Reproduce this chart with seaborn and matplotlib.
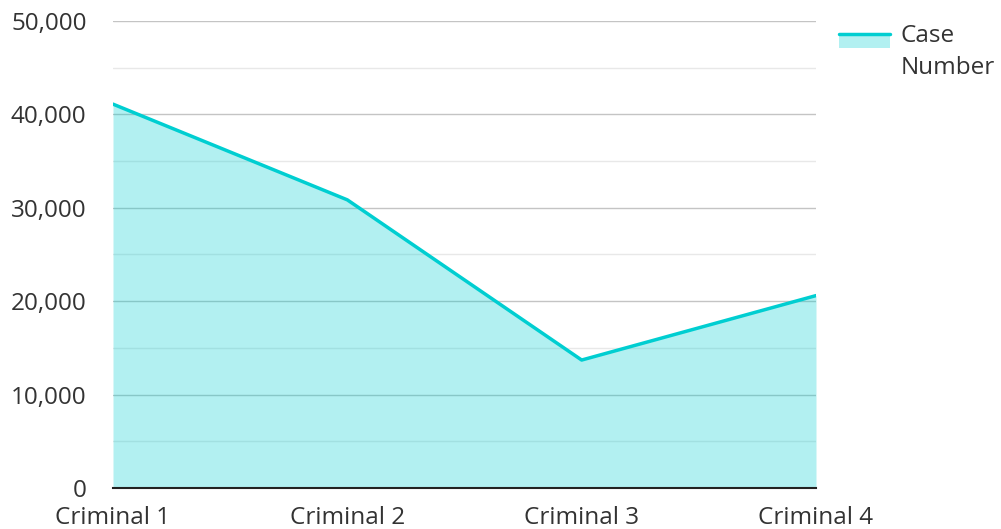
import matplotlib
matplotlib.use("Agg")
import pandas as pd
import seaborn as sns
import matplotlib.pyplot as plt
from matplotlib.patches import Rectangle
from matplotlib.lines import Line2D
from matplotlib.ticker import FuncFormatter, MultipleLocator

categories = ["Criminal 1", "Criminal 2", "Criminal 3", "Criminal 4"]
case_number = [41100, 30850, 13700, 20600]

line_color = "#00CED1"

sns.set_theme(style="white")
plt.rcParams['font.family'] = ['Open Sans', 'DejaVu Sans']

df = pd.DataFrame({"x": range(len(categories)), "cases": case_number})

fig = plt.figure(figsize=(10.01, 5.29), dpi=100)
ax = fig.add_axes([113 / 1001, 1 - 488 / 529, (816 - 113) / 1001, (488 - 21) / 529])

ax.fill_between(df["x"], df["cases"], 0, color=line_color, alpha=0.3, linewidth=0, zorder=1)
sns.lineplot(data=df, x="x", y="cases", color=line_color, linewidth=2.5, ax=ax, zorder=3)

ax.set_xlim(0, 3)
ax.set_ylim(0, 50000)
ax.yaxis.set_major_locator(MultipleLocator(10000))
ax.yaxis.set_minor_locator(MultipleLocator(5000))
ax.yaxis.set_major_formatter(FuncFormatter(lambda v, p: f"{int(v):,}"))
ax.set_axisbelow(True)
ax.grid(axis="y", which="major", color="#c4c4c4", linewidth=1, zorder=0.5)
ax.grid(axis="y", which="minor", color="#e8e8e8", linewidth=1, zorder=0.5)
ax.set_xticks(df["x"])
ax.set_xticklabels(categories)
ax.tick_params(axis="both", which="both", length=0, labelsize=17.5, colors="#333333")
ax.tick_params(axis="y", pad=19)
ax.tick_params(axis="x", pad=13)
ax.set_xlabel("")
ax.set_ylabel("")
for s in ["top", "right", "left"]:
    ax.spines[s].set_visible(False)
ax.spines["bottom"].set_color("#222222")
ax.spines["bottom"].set_linewidth(1.5)
ax.spines["bottom"].set_zorder(4)


class AreaHandler:
    # line on top of a filled box, aligned with the first text line
    def legend_artist(self, legend, orig_handle, fontsize, handlebox):
        x0, y0 = handlebox.xdescent, handlebox.ydescent
        w, h = handlebox.width, handlebox.height
        y0 = y0 + 0.57 * fontsize
        rect = Rectangle((x0, y0), w, h, facecolor=line_color, alpha=0.3,
                         edgecolor="none", transform=handlebox.get_transform())
        ln = Line2D([x0, x0 + w], [y0 + h, y0 + h], color=line_color, linewidth=2.5,
                    transform=handlebox.get_transform())
        handlebox.add_artist(rect)
        handlebox.add_artist(ln)
        return rect


handle = Rectangle((0, 0), 1, 1)
leg = fig.legend([handle], ["Case\nNumber"], handler_map={Rectangle: AreaHandler()},
                 loc="upper left", bbox_to_anchor=(817 / 1001, 1 - 2 / 529),
                 frameon=False, fontsize=17.5, handlelength=2.1, handleheight=0.55,
                 handletextpad=0.45, labelcolor="#333333")
leg.get_texts()[0].set_linespacing(1.45)

fig.savefig("out.png", dpi=100)
